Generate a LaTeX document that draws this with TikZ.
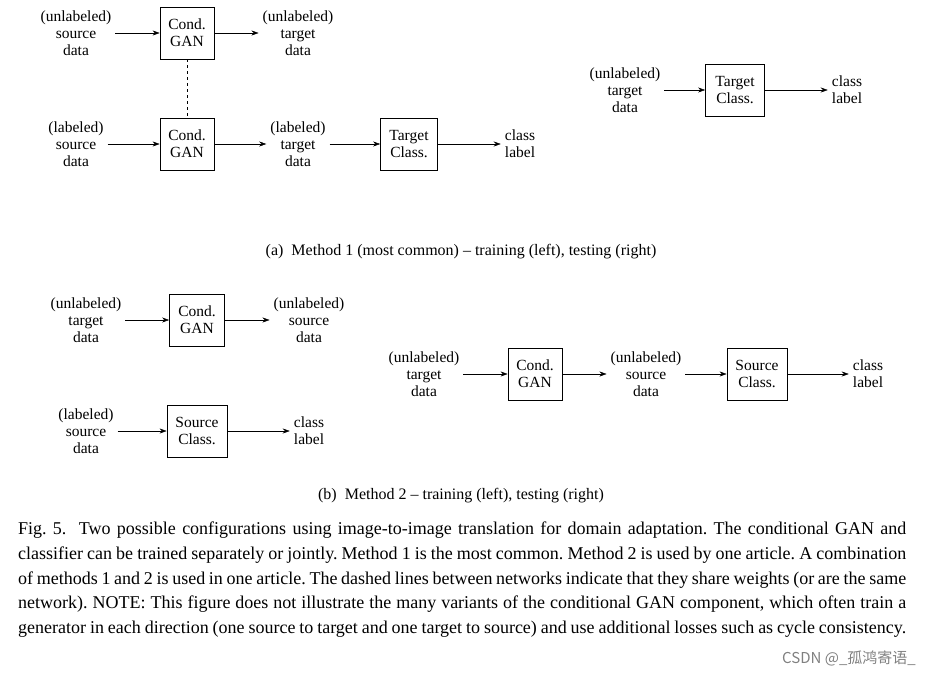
\documentclass[tikz,border=0pt]{standalone}
\usepackage{fontspec}
\setmainfont{Liberation Serif}
\newfontfamily\cjk{Noto Sans CJK SC}
\usetikzlibrary{arrows.meta}
\begin{document}
\begin{tikzpicture}[x=1pt,y=-1pt,
 lbl/.style={align=center,font=\fontsize{15.5}{17}\selectfont,inner sep=4pt},
 box/.style={draw,thick,minimum width=54pt,minimum height=52pt,align=center,font=\fontsize{15.5}{17}\selectfont,inner sep=1pt},
 arr/.style={-{Stealth[length=7pt,width=5pt]}}]
\useasboundingbox (0,0) rectangle (929,672);
% (a)
\node[lbl] (a1) at (76,33) {(unlabeled)\\source\\data};
\node[box] (g1) at (187,33) {Cond.\\GAN};
\node[lbl] (a2) at (298,33) {(unlabeled)\\target\\data};
\node[lbl] (a3) at (76,144) {(labeled)\\source\\data};
\node[box] (g2) at (187,144) {Cond.\\GAN};
\node[lbl] (a4) at (298,144) {(labeled)\\target\\data};
\node[box,minimum width=57pt] (c1) at (409,144) {Target\\Class.};
\node[lbl] (a5) at (520,144) {class\\label};
\draw[arr] (a1) -- (g1); \draw[arr] (g1) -- (a2);
\draw[arr] (a3) -- (g2); \draw[arr] (g2) -- (a4);
\draw[arr] (a4) -- (c1); \draw[arr] (c1) -- (a5);
\draw[dashed] (g1) -- (g2);
\node[lbl] (a6) at (625,90) {(unlabeled)\\target\\data};
\node[box,minimum width=59pt] (c2) at (735,90) {Target\\Class.};
\node[lbl] (a7) at (847,90) {class\\label};
\draw[arr] (a6) -- (c2); \draw[arr] (c2) -- (a7);
\node[font=\fontsize{16}{18}\selectfont] (capa) at (461,252) {(a)\ \ Method 1 (most common) – training (left), testing (right)};
% (b)
\node[lbl] (b1) at (86,320) {(unlabeled)\\target\\data};
\node[box,minimum width=55pt] (g3) at (197,320) {Cond.\\GAN};
\node[lbl] (b2) at (309,320) {(unlabeled)\\source\\data};
\node[lbl] (b3) at (86,431) {(labeled)\\source\\data};
\node[box,minimum width=60pt] (c3) at (197,431) {Source\\Class.};
\node[lbl] (b4) at (309,431) {class\\label};
\draw[arr] (b1) -- (g3); \draw[arr] (g3) -- (b2);
\draw[arr] (b3) -- (c3); \draw[arr] (c3) -- (b4);
\node[lbl] (b5) at (424,374) {(unlabeled)\\target\\data};
\node[box] (g4) at (535,374) {Cond.\\GAN};
\node[lbl] (b6) at (646,374) {(unlabeled)\\source\\data};
\node[box,minimum width=60pt] (c4) at (757,374) {Source\\Class.};
\node[lbl] (b7) at (868,374) {class\\label};
\draw[arr] (b5) -- (g4); \draw[arr] (g4) -- (b6);
\draw[arr] (b6) -- (c4); \draw[arr] (c4) -- (b7);
\node[font=\fontsize{16}{18}\selectfont] (capb) at (461,496) {(b)\ \ Method 2 – training (left), testing (right)};
% caption
\node[anchor=north west,text width=888pt,align=justify,inner sep=0pt,font=\fontsize{18}{24.6}\selectfont\frenchspacing] (cap) at (18,522) {Fig. 5.\ \ Two possible configurations using image-to-image translation for domain adaptation. The conditional GAN and classifier can be trained separately or jointly. Method 1 is the most common. Method 2 is used by one article. A combination of methods 1 and 2 is used in one article. The dashed lines between networks indicate that they share weights (or are the same network). NOTE: This figure does not illustrate the many variants of the conditional GAN component, which often train a generator in each direction (one source to target and one target to source) and use additional losses such as cycle consistency.};
\node[anchor=south east,font=\cjk\fontsize{15}{17}\selectfont,text=gray,inner sep=2pt] (wm) at (918,668) {CSDN @\_孤鸿寄语\_};
\end{tikzpicture}
\end{document}
